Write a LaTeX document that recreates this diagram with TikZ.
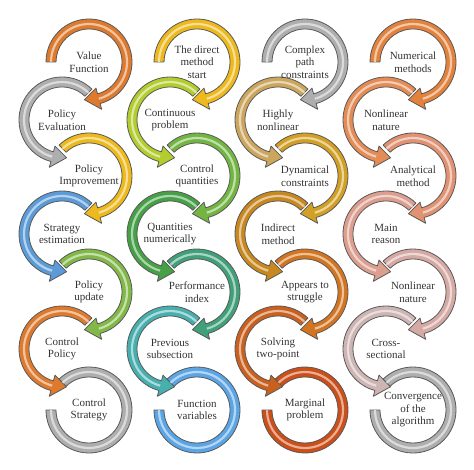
\documentclass[tikz,border=0pt]{standalone}
\usepackage{fontspec}
\setmainfont{Liberation Serif}
\usepackage{tikz}
\usetikzlibrary{calc}

\definecolor{curlOrange}{HTML}{DE7A2E}
\definecolor{curlGray}{HTML}{AEAEAE}
\definecolor{curlYellow}{HTML}{EDB91C}
\definecolor{curlBlue}{HTML}{5A9BD8}
\definecolor{curlGreen}{HTML}{82B848}
\definecolor{curlLime}{HTML}{B3CC2E}
\definecolor{curlGrass}{HTML}{72B541}
\definecolor{curlForest}{HTML}{45A046}
\definecolor{curlSea}{HTML}{3FA07A}
\definecolor{curlTeal}{HTML}{48AFAF}
\definecolor{curlSky}{HTML}{5AA5E5}
\definecolor{curlTan}{HTML}{CCA65C}
\definecolor{curlGold}{HTML}{D2A024}
\definecolor{curlOchre}{HTML}{C8881E}
\definecolor{curlAmber}{HTML}{D27420}
\definecolor{curlBurnt}{HTML}{C9601E}
\definecolor{curlRust}{HTML}{CC4E18}
\definecolor{curlApricot}{HTML}{E3823C}
\definecolor{curlPeach}{HTML}{E38C56}
\definecolor{curlSalmon}{HTML}{E09272}
\definecolor{curlRose}{HTML}{DC9E8E}
\definecolor{curlBlush}{HTML}{D6AAA4}
\definecolor{curlMauve}{HTML}{CDB5B3}

\def\Ro{43}
\def\Ri{33}
\def\Rm{38}
\def\Rh{49}
\def\Rl{27}

% curled arrow: centre, start angle, end angle, tip angle, colour
\newcommand{\drawCurl}[5]{
    \begin{scope}[shift={(#1)}]
        \filldraw[curl,fill=#5] (#2:\Ro) arc[start angle=#2,end angle=#3,radius=\Ro]
            -- (#3:\Rh) -- (#4:\Rm) -- (#3:\Rl) -- (#3:\Ri)
            arc[start angle=#3,end angle=#2,radius=\Ri] -- cycle;
        \draw[#5!45!white,line width=2.2pt] (#2:\Rm) arc[start angle=#2,end angle=#3,radius=\Rm];
    \end{scope}
}
% closing ring without head: centre, start angle, end angle, colour
\newcommand{\drawRing}[4]{
    \begin{scope}[shift={(#1)}]
        \filldraw[curl,fill=#4] (#2:\Ro) arc[start angle=#2,end angle=#3,radius=\Ro]
            -- (#3:\Ri) arc[start angle=#3,end angle=#2,radius=\Ri] -- cycle;
        \draw[#4!45!white,line width=2.2pt] (#2:\Rm) arc[start angle=#2,end angle=#3,radius=\Rm];
    \end{scope}
}

\begin{document}
\begin{tikzpicture}[x=1pt,y=1pt,line join=round,
    curl/.style={draw=black!65,line width=0.8pt},
    lbl/.style={align=center,text=black!80,inner sep=0pt,font=\fontsize{11}{12.5}\selectfont}]
    \useasboundingbox (0,0) rectangle (474,469);

    % centres
    \coordinate (a1) at (89,407);  \coordinate (a2) at (62,349);
    \coordinate (a3) at (89,293);  \coordinate (a4) at (62,235);
    \coordinate (a5) at (89,177);  \coordinate (a6) at (62,120);
    \coordinate (a7) at (89,59);
    \coordinate (b1) at (197,407); \coordinate (b2) at (170,349);
    \coordinate (b3) at (197,293); \coordinate (b4) at (170,235);
    \coordinate (b5) at (197,177); \coordinate (b6) at (170,120);
    \coordinate (b7) at (197,59);
    \coordinate (c1) at (305,407); \coordinate (c2) at (278,349);
    \coordinate (c3) at (305,293); \coordinate (c4) at (278,235);
    \coordinate (c5) at (305,177); \coordinate (c6) at (278,120);
    \coordinate (c7) at (305,59);
    \coordinate (d1) at (413,407); \coordinate (d2) at (386,349);
    \coordinate (d3) at (413,293); \coordinate (d4) at (386,235);
    \coordinate (d5) at (413,177); \coordinate (d6) at (386,120);
    \coordinate (d7) at (413,59);

    \drawCurl{a1}{180}{-75}{-97}{curlOrange}
    \drawCurl{a2}{46}{255}{277}{curlGray}
    \drawCurl{a3}{134}{-75}{-97}{curlYellow}
    \drawCurl{a4}{46}{255}{277}{curlBlue}
    \drawCurl{a5}{134}{-75}{-97}{curlGreen}
    \drawCurl{a6}{46}{255}{277}{curlOrange}
    \drawRing{a7}{134}{-180}{curlGray}

    \drawCurl{b1}{180}{-75}{-97}{curlYellow}
    \drawCurl{b2}{46}{255}{277}{curlLime}
    \drawCurl{b3}{134}{-75}{-97}{curlGrass}
    \drawCurl{b4}{46}{255}{277}{curlForest}
    \drawCurl{b5}{134}{-75}{-97}{curlSea}
    \drawCurl{b6}{46}{255}{277}{curlTeal}
    \drawRing{b7}{134}{-180}{curlSky}

    \drawCurl{c1}{180}{-75}{-97}{curlGray}
    \drawCurl{c2}{46}{255}{277}{curlTan}
    \drawCurl{c3}{134}{-75}{-97}{curlGold}
    \drawCurl{c4}{46}{255}{277}{curlOchre}
    \drawCurl{c5}{134}{-75}{-97}{curlAmber}
    \drawCurl{c6}{46}{255}{277}{curlBurnt}
    \drawRing{c7}{134}{-180}{curlRust}

    \drawCurl{d1}{180}{-75}{-97}{curlApricot}
    \drawCurl{d2}{46}{255}{277}{curlPeach}
    \drawCurl{d3}{134}{-75}{-97}{curlSalmon}
    \drawCurl{d4}{46}{255}{277}{curlRose}
    \drawCurl{d5}{134}{-75}{-97}{curlBlush}
    \drawCurl{d6}{46}{255}{277}{curlMauve}
    \drawRing{d7}{134}{-180}{curlGray}

    \node[lbl] (valfun) at (a1) {Value\\Function};
    \node[lbl] (poleval) at (a2) {Policy\\Evaluation};
    \node[lbl] (polimp) at (a3) {Policy\\Improvement};
    \node[lbl] (strest) at (a4) {Strategy\\estimation};
    \node[lbl] (polupd) at (a5) {Policy\\update};
    \node[lbl] (ctrlpol) at (a6) {Control\\Policy};
    \node[lbl] (ctrlstr) at (a7) {Control\\Strategy};

    \node[lbl] (direct) at (b1) {The direct\\method\\start};
    \node[lbl] (contprob) at (b2) {Continuous\\problem};
    \node[lbl] (ctrlqty) at (b3) {Control\\quantities};
    \node[lbl] (qtynum) at (b4) {Quantities\\numerically};
    \node[lbl] (perfidx) at (b5) {Performance\\index};
    \node[lbl] (prevsub) at (b6) {Previous\\subsection};
    \node[lbl] (funvar) at (b7) {Function\\variables};

    \node[lbl] (cplxpath) at (c1) {Complex\\path\\constraints};
    \node[lbl] (highnl) at (c2) {Highly\\nonlinear};
    \node[lbl] (dyncon) at (c3) {Dynamical\\constraints};
    \node[lbl] (indir) at (c4) {Indirect\\method};
    \node[lbl] (struggle) at (c5) {Appears to\\struggle};
    \node[lbl] (twopt) at (c6) {Solving\\two-point};
    \node[lbl] (margprob) at (c7) {Marginal\\problem};

    \node[lbl] (nummeth) at (d1) {Numerical\\methods};
    \node[lbl] (nlnat) at (d2) {Nonlinear\\nature};
    \node[lbl] (analmeth) at (d3) {Analytical\\method};
    \node[lbl] (mainrsn) at (d4) {Main\\reason};
    \node[lbl] (nlnatb) at (d5) {Nonlinear\\nature};
    \node[lbl] (crosssec) at (d6) {Cross-\\sectional};
    \node[lbl] (converge) at (d7) {Convergence\\of the\\algorithm};
\end{tikzpicture}
\end{document}
